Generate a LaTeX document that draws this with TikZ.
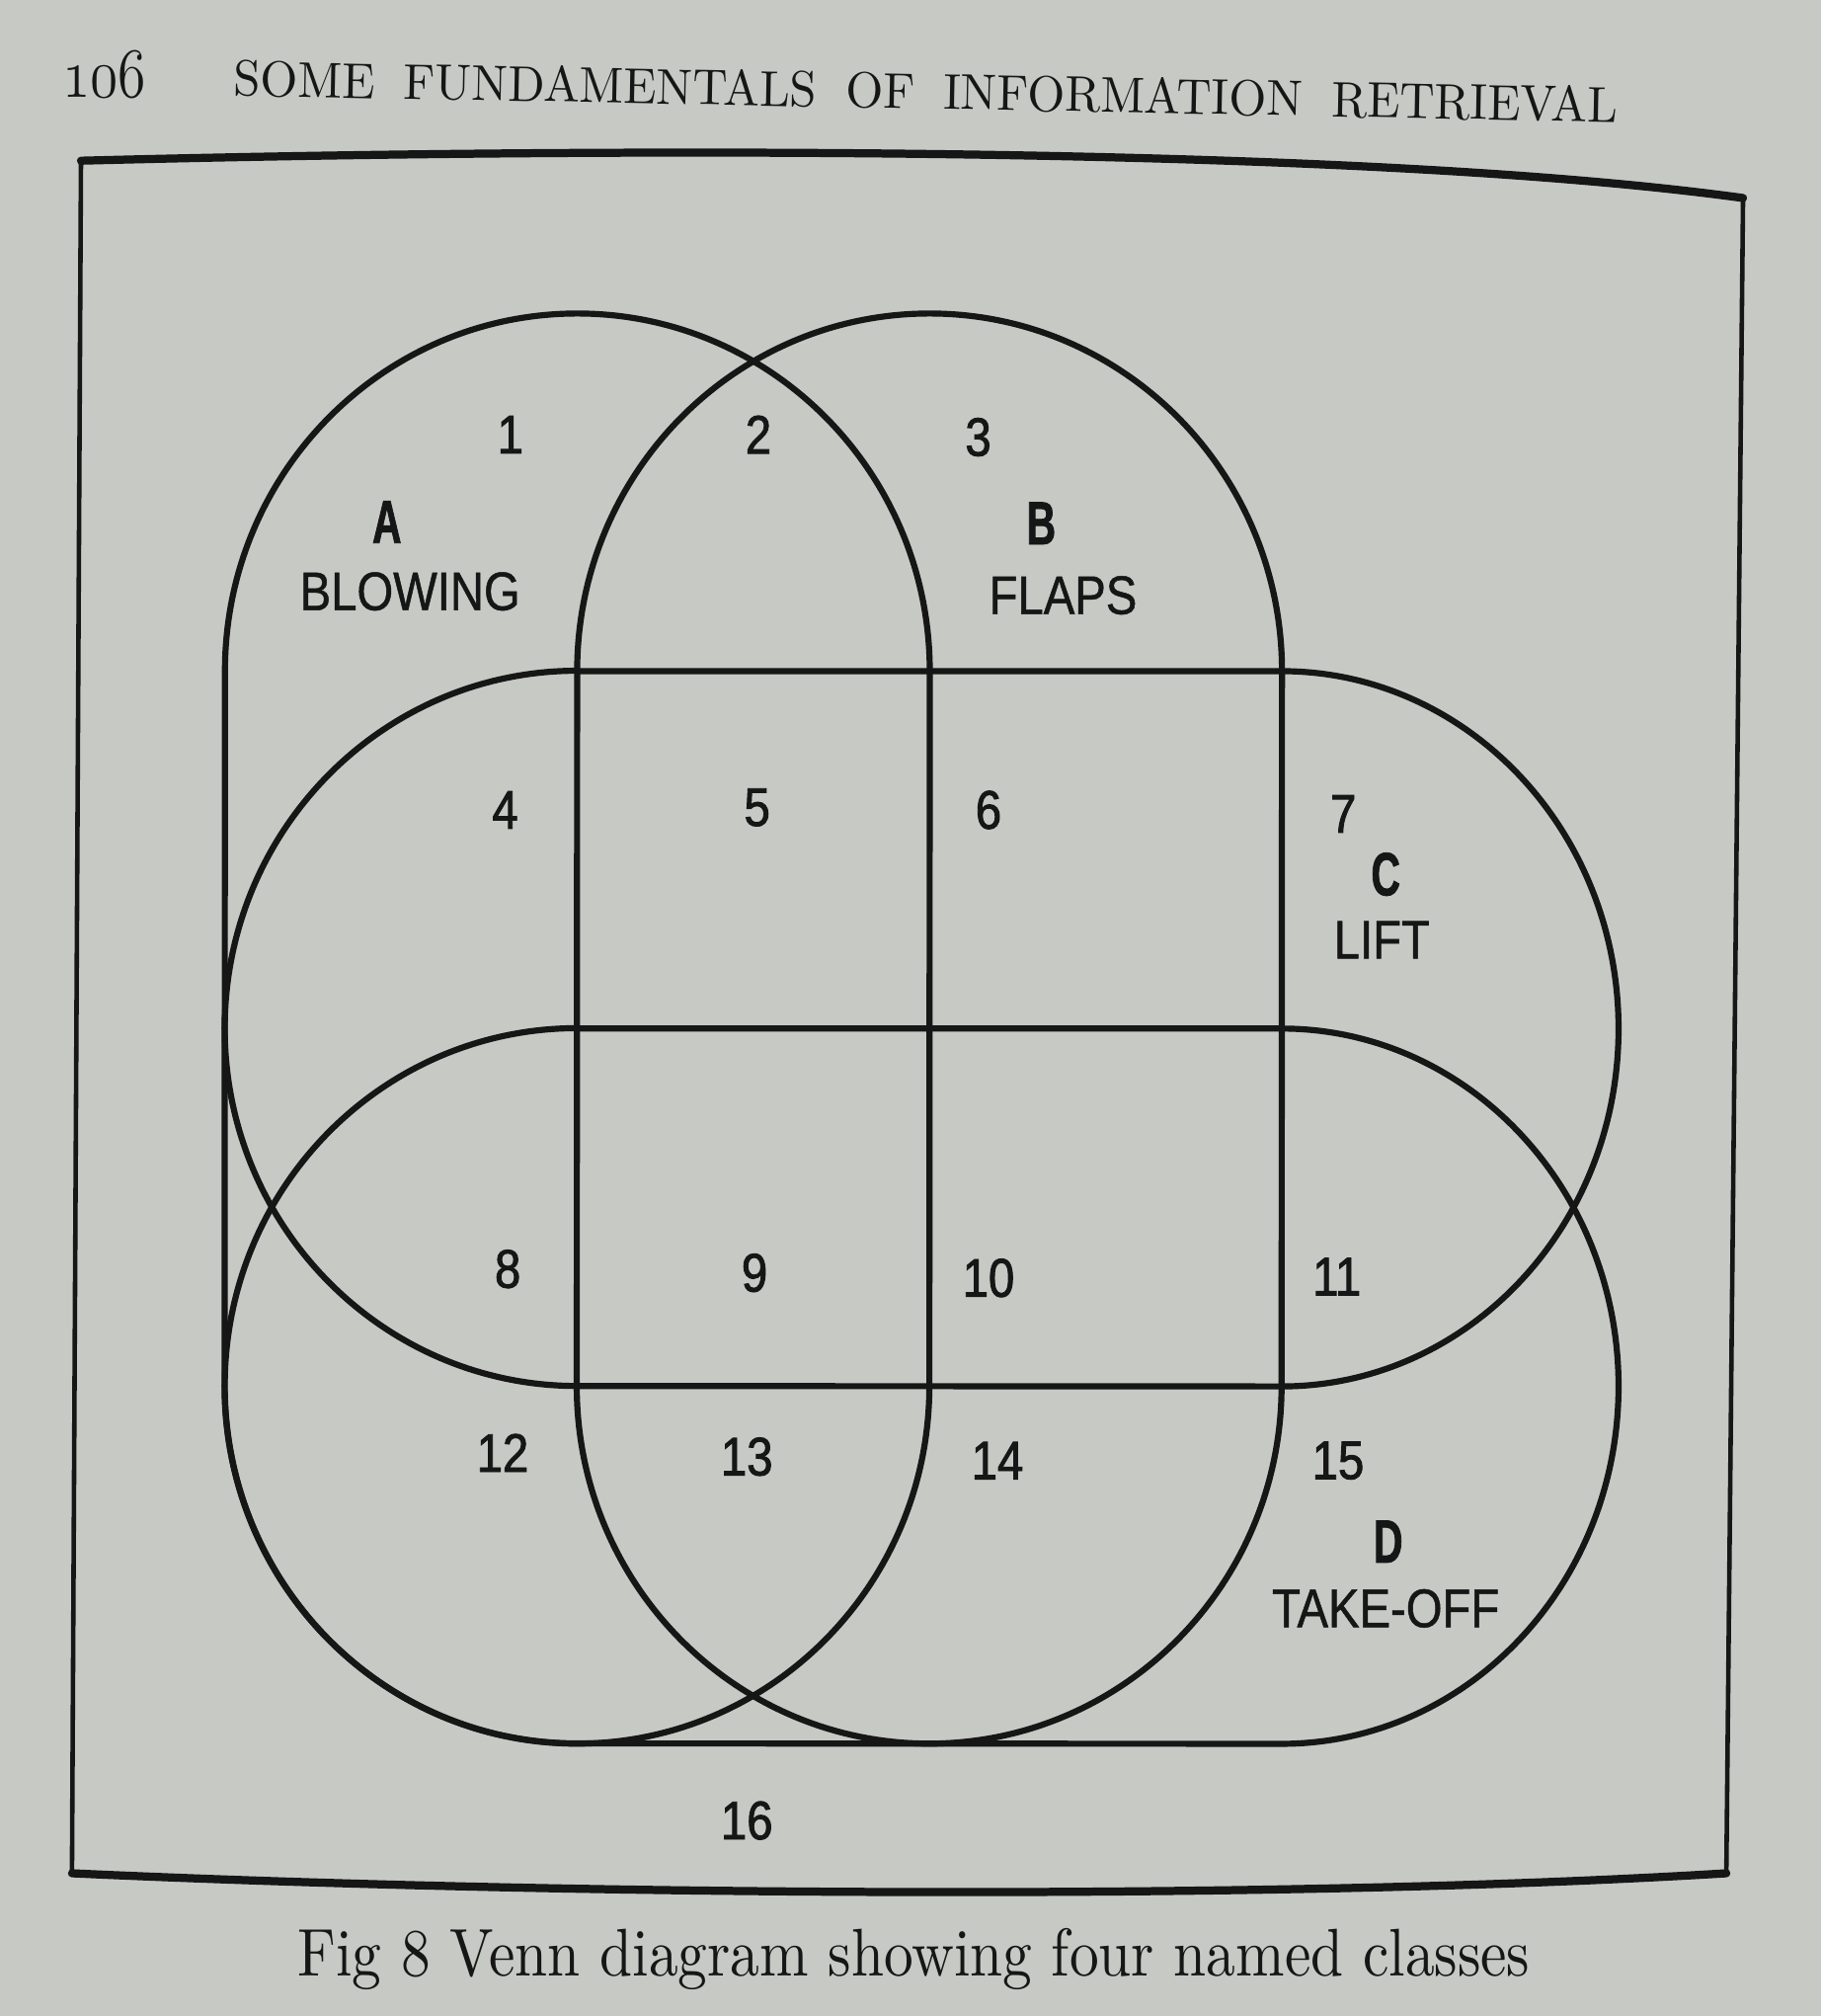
\documentclass[tikz,border=0pt]{standalone}
\usepackage{graphicx}
\usepackage{fontspec}
\newfontfamily\diagfont[FakeStretch=0.86,FakeBold=0.9]{Liberation Sans}
\newfontfamily\numfont[FakeStretch=0.86,FakeBold=1.6]{Liberation Sans}
\newfontfamily\letfont[FakeStretch=0.66,FakeBold=1.2]{Liberation Sans}
\definecolor{paper}{RGB}{198,201,196}
\definecolor{ink}{RGB}{22,22,22}
\begin{document}
\begin{tikzpicture}[x=0.01cm,y=0.01cm,
  setline/.style={draw=ink,line width=1.35pt,line join=round},
  frameh/.style={draw=ink,line width=1.8pt,line cap=round},
  framev/.style={draw=ink,line width=1pt},
  num/.style={font=\numfont\fontsize{12}{14}\selectfont,text=ink,inner sep=0pt},
  cname/.style={font=\diagfont\fontsize{12}{14}\selectfont,text=ink,inner sep=0pt},
  clet/.style={font=\letfont\bfseries\fontsize{13.5}{15}\selectfont,text=ink,inner sep=0pt},
  serif/.style={text=ink,inner sep=0pt,anchor=base west}]
\fill[paper] (0,0) rectangle (1417,1568);
\useasboundingbox (0,0) rectangle (1417,1568);

% page header and caption
\node[serif] (pnum) at (48,1492) {\scalebox{1.05}[1.3]{\fontsize{12}{14}\usefont{OML}{cmm}{m}{it}106}};
\node[serif,rotate=-1.09] (head) at (181,1493.5) {\resizebox{10.76cm}{0.28cm}{\addfontfeatures{LetterSpace=5,FakeBold=0.8}SOME\hspace{0.6em}FUNDAMENTALS\hspace{0.6em}OF\hspace{0.6em}INFORMATION\hspace{0.6em}RETRIEVAL}};
\node[serif] (cap) at (231,31) {\resizebox{9.58cm}{0.37cm}{\addfontfeatures{FakeBold=0.8}Fig 8 Venn diagram showing four named classes}};

% outer frame (universe)
\draw[frameh] (63,1443) .. controls (450,1453) and (1050,1456) .. (1356,1414);
\draw[framev] (63,1443) -- (56,111);
\draw[framev] (1356,1414) -- (1343,110);
\draw[frameh] (56,111) .. controls (450,93) and (1000,90) .. (1343,111);

% A : vertical stadium
\draw[setline] (175,1046) arc[start angle=180,end angle=0,x radius=2.74cm,y radius=2.78cm]
  -- (723,490) arc[start angle=0,end angle=-180,x radius=2.74cm,y radius=2.78cm] -- cycle;
% B : vertical stadium
\draw[setline] (449,1046) arc[start angle=180,end angle=0,x radius=2.74cm,y radius=2.78cm]
  -- (997,490) arc[start angle=0,end angle=-180,x radius=2.74cm,y radius=2.78cm] -- cycle;
% C : horizontal stadium
\draw[setline] (449,1046) -- (997,1046) arc[start angle=90,end angle=-90,x radius=2.62cm,y radius=2.78cm]
  -- (449,490) arc[start angle=270,end angle=90,x radius=2.74cm,y radius=2.78cm] -- cycle;
% D : horizontal stadium
\draw[setline] (449,768) -- (997,768) arc[start angle=90,end angle=-90,x radius=2.62cm,y radius=2.78cm]
  -- (449,212) arc[start angle=270,end angle=90,x radius=2.74cm,y radius=2.78cm] -- cycle;

% class letters and names
\node[clet] (lA) at (301,1162) {A};
\node[cname] (tA) at (319,1108) {BLOWING};
\node[clet] (lB) at (810,1161) {B};
\node[cname] (tB) at (827,1105) {FLAPS};
\node[clet] (lC) at (1078,888) {C};
\node[cname] (tC) at (1075,837) {LIFT};
\node[clet] (lD) at (1080,369) {D};
\node[cname] (tD) at (1078,317) {TAKE-OFF};

% region numbers
\node[num] (n1) at (397,1230) {1};
\node[num] (n2) at (590,1230) {2};
\node[num] (n3) at (761,1228) {3};
\node[num] (n4) at (393,938) {4};
\node[num] (n5) at (589,940) {5};
\node[num] (n6) at (769,938) {6};
\node[num] (n7) at (1045,935) {7};
\node[num] (n8) at (395,581) {8};
\node[num] (n9) at (587,578) {9};
\node[num] (n10) at (769,574) {10};
\node[num] (n11) at (1040,575) {11};
\node[num] (n12) at (391,438) {12};
\node[num] (n13) at (581,435) {13};
\node[num] (n14) at (776,432) {14};
\node[num] (n15) at (1041,432) {15};
\node[num] (n16) at (581,152) {16};
\end{tikzpicture}
\end{document}
